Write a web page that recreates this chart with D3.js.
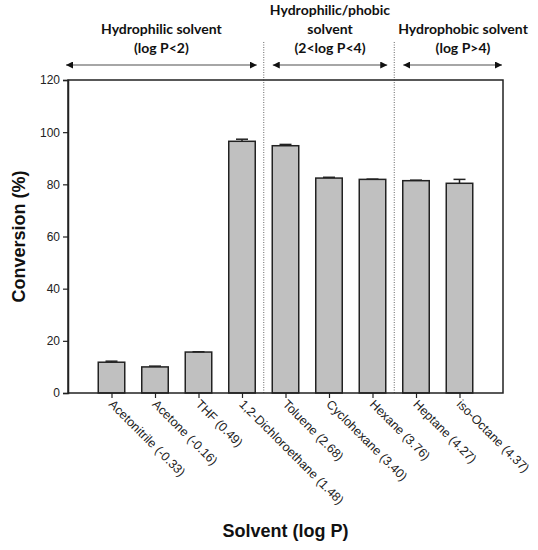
<!DOCTYPE html>
<html>
<head>
<meta charset="utf-8">
<script src="https://cdn.jsdelivr.net/npm/d3@7"></script>
<style>
  body { margin: 0; background: #fff; }
  svg { display: block; }
</style>
</head>
<body>
<svg id="chart" width="538" height="550"></svg>
<script>
// data
const solvents = ["Acetonitrile (-0.33)", "Acetone (-0.16)", "THF (0.49)", "1,2-Dichloroethane (1.48)",
  "Toluene (2.68)", "Cyclohexane (3.40)", "Hexane (3.76)", "Heptane (4.27)", "iso-Octane (4.37)"];
const conversion = [11.8, 10.0, 15.7, 96.5, 94.8, 82.4, 81.9, 81.4, 80.4];
const errors = [0.4, 0.3, 0.1, 0.8, 0.5, 0.3, 0.1, 0.2, 1.5];
const yTicks = [0, 20, 40, 60, 80, 100, 120];

// solvent groups: first/last bar index and title lines
const groupLines = [["Hydrophilic solvent", "(log P<2)"],
  ["Hydrophilic/phobic", "solvent", "(2<log P<4)"],
  ["Hydrophobic solvent", "(log P>4)"]];
const groupStart = [0, 4, 7];
const groupEnd = [3, 6, 8];

const svg = d3.select("#chart");
const margin = { top: 80, right: 35, bottom: 157, left: 68 };
const width = 538, height = 550;
const arial = "'Liberation Sans', Arial, sans-serif";

const x = d3.scaleLinear().domain([0, solvents.length + 1]).range([margin.left, width - margin.right]);
const y = d3.scaleLinear().domain([0, 120]).range([height - margin.bottom, margin.top]);
const barW = 26.5;

const defs = svg.append("defs");
defs.append("marker")
  .attr("id", "head")
  .attr("viewBox", "0 0 10 10")
  .attr("refX", 10).attr("refY", 5)
  .attr("markerWidth", 7).attr("markerHeight", 7)
  .attr("markerUnits", "userSpaceOnUse")
  .attr("orient", "auto-start-reverse")
  .append("path")
  .attr("d", "M0,0L10,5L0,10Z")
  .attr("fill", "#111");

// dotted separators between groups
[3.5, 6.5].forEach(v => {
  svg.append("line")
    .attr("x1", x(v + 1)).attr("x2", x(v + 1))
    .attr("y1", 42).attr("y2", y(0))
    .attr("stroke", "#666")
    .attr("stroke-width", 1)
    .attr("stroke-dasharray", "1,1.5");
});

// bars
svg.append("g")
  .selectAll("rect")
  .data(conversion)
  .join("rect")
  .attr("x", (d, i) => x(i + 1) - barW / 2)
  .attr("y", d => y(d))
  .attr("width", barW)
  .attr("height", d => y(0) - y(d))
  .attr("fill", "#c0c0c0")
  .attr("stroke", "#222")
  .attr("stroke-width", 1.5);

// error bars (upper only)
const eb = svg.append("g").attr("stroke", "#222").attr("stroke-width", 1.5);
conversion.forEach((d, i) => {
  const cx = x(i + 1);
  eb.append("line").attr("x1", cx).attr("x2", cx).attr("y1", y(d)).attr("y2", y(d + errors[i]));
  eb.append("line").attr("x1", cx - 6).attr("x2", cx + 6).attr("y1", y(d + errors[i])).attr("y2", y(d + errors[i]));
});

// frame
svg.append("rect")
  .attr("x", x(0)).attr("y", y(120))
  .attr("width", x(solvents.length + 1) - x(0))
  .attr("height", y(0) - y(120))
  .attr("fill", "none")
  .attr("stroke", "#222")
  .attr("stroke-width", 1.5);

// y axis
const yAxis = svg.append("g")
  .attr("transform", `translate(${margin.left},0)`)
  .call(d3.axisLeft(y).tickValues(yTicks).tickSize(5).tickPadding(3));
yAxis.attr("font-family", arial);
yAxis.select(".domain").attr("stroke", "#222").attr("stroke-width", 1.5);
yAxis.selectAll(".tick line").attr("stroke", "#222").attr("stroke-width", 1.2);
yAxis.selectAll("text").attr("font-size", 12).attr("fill", "#222");

// x axis
const xAxis = svg.append("g")
  .attr("transform", `translate(0,${y(0)})`)
  .call(d3.axisBottom(x).tickValues(d3.range(1, solvents.length + 1)).tickSize(5).tickFormat(d => solvents[d - 1]));
xAxis.attr("font-family", arial);
xAxis.select(".domain").remove();
xAxis.selectAll(".tick line").attr("stroke", "#222").attr("stroke-width", 1.2);
xAxis.selectAll("text")
  .attr("font-size", 12.5)
  .attr("fill", "#222")
  .attr("text-anchor", "start")
  .attr("dy", null)
  .attr("y", 0)
  .attr("transform", "translate(-4,12) rotate(45)");

// axis titles
svg.append("text")
  .attr("x", (x(0) + x(solvents.length + 1)) / 2)
  .attr("y", 537)
  .attr("text-anchor", "middle")
  .attr("font-family", arial)
  .attr("font-weight", "bold")
  .attr("font-size", 18)
  .attr("fill", "#111")
  .text("Solvent (log P)");

svg.append("text")
  .attr("transform", `translate(25,${(y(0) + y(120)) / 2}) rotate(-90)`)
  .attr("text-anchor", "middle")
  .attr("font-family", arial)
  .attr("font-weight", "bold")
  .attr("font-size", 18)
  .attr("fill", "#111")
  .text("Conversion (%)");

// group arrows and titles
groupLines.forEach((lines, g) => {
  const x0 = g === 0 ? x(0) - 3 : x(groupStart[g] + 0.5) + 8;
  const x1 = g === 2 ? x(solvents.length + 1) : x(groupEnd[g] + 1.5) - 6;
  svg.append("line")
    .attr("x1", x0 + 1).attr("x2", x1 - 1)
    .attr("y1", 65).attr("y2", 65)
    .attr("stroke", "#888")
    .attr("stroke-width", 1.5)
    .attr("marker-start", "url(#head)")
    .attr("marker-end", "url(#head)");
  // last title runs past the frame on the right, as in the figure
  const cx = g === 2 ? x1 - 40 : (x0 + x1) / 2;
  const t = svg.append("text")
    .attr("text-anchor", "middle")
    .attr("font-family", "Lato, sans-serif")
    .attr("font-weight", "bold")
    .attr("font-size", 14)
    .attr("fill", "#111");
  const firstY = 53 - (lines.length - 1) * 19;
  lines.forEach((s, k) => {
    t.append("tspan").attr("x", cx).attr("y", firstY + k * 19).text(s);
  });
});
</script>
</body>
</html>
